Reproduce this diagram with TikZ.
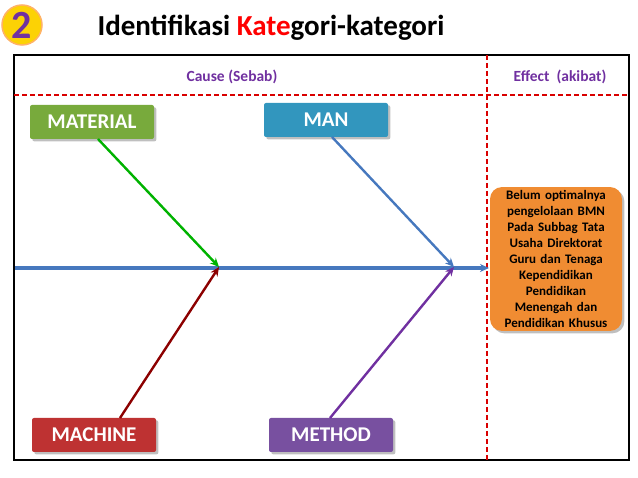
\documentclass[tikz,border=0pt]{standalone}
\usepackage{fontspec}
\setmainfont{Carlito}
\usetikzlibrary{arrows.meta,shadows}
\definecolor{matgreen}{RGB}{120,170,60}
\definecolor{manblue}{RGB}{50,150,190}
\definecolor{macred}{RGB}{190,50,50}
\definecolor{metpurple}{RGB}{120,80,160}
\definecolor{causepurple}{RGB}{112,48,160}
\definecolor{spineblue}{RGB}{70,120,190}
\definecolor{effectorange}{RGB}{240,140,50}
\tikzset{
  cat/.style={draw=none, rounded corners=2pt, minimum width=124pt, minimum height=34pt,
    text=white, font=\fontsize{21}{21}\selectfont\bfseries, drop shadow},
  bone/.style={line width=2.4pt, -{Stealth[length=9pt,width=8pt]}},
  sep/.style={red!85!black, line width=1.6pt, dash pattern=on 5pt off 3pt}
}
\begin{document}
\begin{tikzpicture}[x=1pt,y=-1pt]
  \useasboundingbox (0,0) rectangle (638,478);
  % badge and title
  \node[circle, fill=yellow!70!orange, draw=orange!60, line width=1.5pt, minimum size=40pt, inner sep=0pt,
    text=causepurple, font=\fontsize{40}{40}\selectfont\bfseries] (badge) at (22,25) {2};
  \node[font=\fontsize{29}{29}\selectfont\bfseries, anchor=west] (title) at (94,28)
    {Identifikasi \textcolor{red}{Kate}gori-kategori};
  % frame
  \draw[line width=2.2pt] (14,55) rectangle (629,460);
  \draw[sep] (14,95) -- (629,95);
  \draw[sep] (487,55) -- (487,460);
  \node[text=causepurple, font=\fontsize{15.5}{15.5}\selectfont\bfseries] (cause) at (232,77) {Cause (Sebab)};
  \node[text=causepurple, font=\fontsize{15.5}{15.5}\selectfont\bfseries] (effect) at (560,77) {Effect\ \ (akibat)};
  % categories
  \node[cat, fill=matgreen] (material) at (92,122) {MATERIAL};
  \node[cat, fill=manblue] (man) at (326,120) {MAN};
  \node[cat, fill=macred] (machine) at (94,435) {MACHINE};
  \node[cat, fill=metpurple] (method) at (331,435) {METHOD};
  \node[fill=effectorange, rounded corners=12pt, minimum width=132pt, minimum height=142pt,
    text width=112pt, align=center, font=\fontsize{13}{16}\selectfont\bfseries, drop shadow] (problem) at (556,259)
    {Belum optimalnya pengelolaan BMN Pada Subbag Tata Usaha Direktorat Guru dan Tenaga Kependidikan Pendidikan Menengah dan Pendidikan Khusus};
  % spine and bones
  \coordinate (tail) at (15,268);
  \coordinate (head) at (489,268);
  \coordinate (m1) at (219,267);
  \coordinate (m2) at (454,267);
  \draw[bone, spineblue, line width=4pt] (tail) -- (head);
  \draw[bone, green!70!black] (98,139) -- (m1);
  \draw[bone, spineblue] (332,137) -- (m2);
  \draw[bone, red!55!black] (120,418) -- (m1);
  \draw[bone, causepurple] (330,418) -- (m2);
\end{tikzpicture}
\end{document}
